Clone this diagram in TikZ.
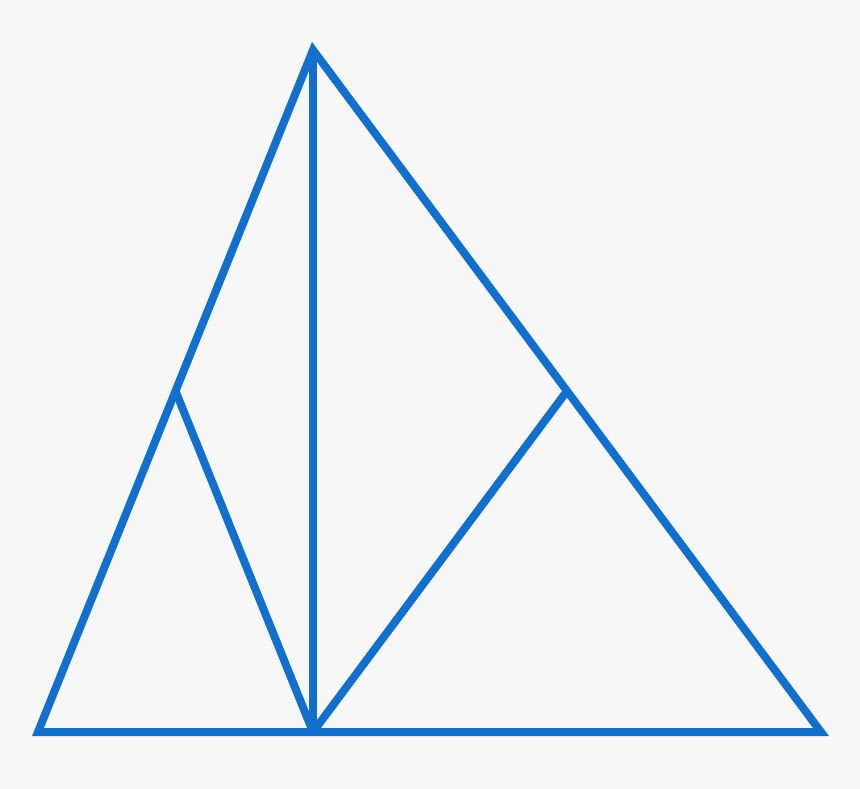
\documentclass[tikz,border=0pt]{standalone}
\usetikzlibrary{calc}
\definecolor{bg}{HTML}{F7F7F8}
\definecolor{tri}{HTML}{1270CC}
\begin{document}
\begin{tikzpicture}[x=1pt,y=-1pt,
  edge/.style={draw=tri,line width=8pt,line join=miter}]
\fill[bg] (0,0) rectangle (860,789);
\useasboundingbox (0,0) rectangle (860,789);
\coordinate (A) at (38,732);
\coordinate (B) at (313,50);
\coordinate (C) at (821,732);
\coordinate (F) at (313,732);
\coordinate (M1) at ($(A)!0.5!(B)$);
\coordinate (M2) at ($(B)!0.5!(C)$);
\begin{scope}
\clip (0,0) rectangle (860,736);
\draw[edge] (B) -- (F);
\draw[edge] (M1) -- (F);
\draw[edge] (F) -- (M2);
\end{scope}
\draw[edge] (A) -- (B) -- (C) -- cycle;
\end{tikzpicture}
\end{document}
